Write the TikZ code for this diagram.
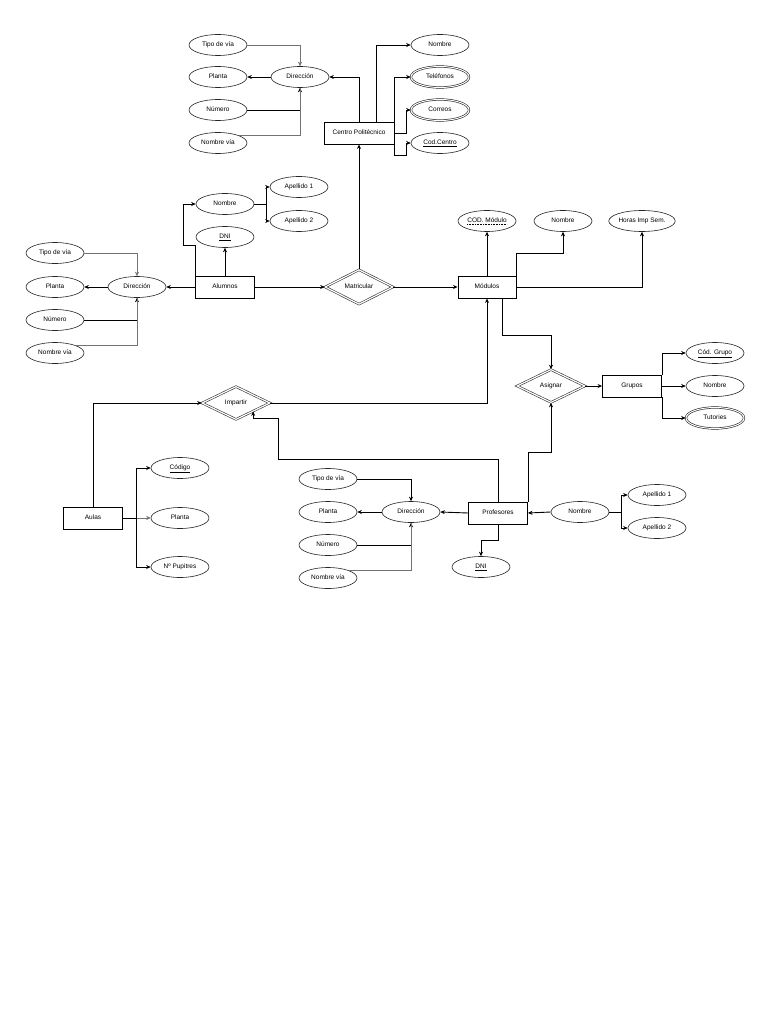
\documentclass[tikz,border=0pt]{standalone}
\usepackage{fontspec}
\setmainfont{Liberation Sans}
\usetikzlibrary{shapes.geometric,arrows.meta}
\tikzset{att/.style={ellipse,draw=black!85,line width=0.6pt,inner sep=0pt,minimum width=58pt,minimum height=21pt,text height=4.8pt,text depth=1.2pt,font=\fontsize{6.5}{7}\selectfont},
attd/.style={att,double,double distance=1pt},
ent/.style={rectangle,draw,line width=0.9pt,inner sep=0pt,minimum width=59pt,minimum height=22pt,text height=4.8pt,text depth=1.2pt,font=\fontsize{6.5}{7}\selectfont},
rel/.style={diamond,draw=black!80,line width=0.6pt,double,double distance=1.2pt,inner sep=0pt,minimum width=68pt,minimum height=33pt,text height=4.8pt,text depth=1.2pt,font=\fontsize{6.5}{7}\selectfont},
ln/.style={line width=0.9pt,-{Stealth[length=4.5pt,width=4pt]}},
lg/.style={line width=0.5pt,draw=black!55}}

\begin{document}
\begin{tikzpicture}[x=1pt,y=-1pt]
\fill[white] (0,0) rectangle (768,1024);
\useasboundingbox (0,0) rectangle (768,1024);

\node[att] (tv1) at (218,45) {Tipo de vía};
\node[att] (pl1) at (218,77) {Planta};
\node[att] (nu1) at (218,110) {Número};
\node[att] (nv1) at (218,143) {Nombre vía};
\node[att] (dir1) at (300,77) {Dirección};
\node[ent,minimum width=70pt] (cp) at (359,133) {Centro Politécnico};
\node[att] (nom1) at (440,45) {Nombre};
\node[attd] (tel) at (440,77) {Teléfonos};
\node[attd] (cor) at (440,110) {Correos};
\node[att] (codc) at (440,143) {\underline{Cod.Centro}};

\draw[lg,-{Stealth[length=4.5pt,width=4pt]}] (tv1.east) -| (dir1.north);
\draw[ln] (dir1.west) -- (pl1.east);
\draw[ln] (nu1.east) -| (dir1.south);
\draw[lg] (nv1.north east) -| (dir1.south);
\draw[ln] (cp.north) |- (dir1.east);
\draw[ln] ([xshift=17pt]cp.north) |- (nom1.west);
\draw[ln] (cp.north east) |- (tel.west);
\draw[ln] (cp.east) -- ++(12,0) |- (cor.west);
\draw[ln] (cp.south east) -- ++(0,11) -- ++(12,0) |- (codc.west);

\node[att] (tv2) at (55,253) {Tipo de vía};
\node[att] (pl2) at (55,287) {Planta};
\node[att] (nu2) at (55,320) {Número};
\node[att] (nv2) at (55,353) {Nombre vía};
\node[att] (dir2) at (137,287) {Dirección};
\node[ent] (alu) at (225,287) {Alumnos};
\node[att] (dni1) at (225,237) {\underline{DNI}};
\node[att] (nom2) at (225,204) {Nombre};
\node[att] (ap11) at (299,187) {Apellido 1};
\node[att] (ap21) at (299,221) {Apellido 2};
\node[rel] (mat) at (359,287) {Matricular};

\draw[lg,-{Stealth[length=4.5pt,width=4pt]}] (tv2.east) -| (dir2.north);
\draw[ln] (dir2.west) -- (pl2.east);
\draw[ln] (nu2.east) -| (dir2.south);
\draw[lg] (nv2.north east) -| (dir2.south);
\draw[ln] (alu.west) -- (dir2.east);
\draw[ln] (alu.north) -- (dni1.south);
\draw[ln] (alu.north west) -- ++(0,-30) -- ++(-12,0) |- (nom2.west);
\draw[ln] (nom2.east) -- ++(12,0) |- (ap11.west);
\draw[ln] (nom2.east) -- ++(12,0) |- (ap21.west);
\draw[ln] (alu.east) -- (mat.west);
\draw[ln] (mat.north) -- (cp.south);

\node[ent,minimum width=58pt] (mod) at (487,287) {Módulos};
\node[att] (codm) at (487,221) {COD. Módulo};
\draw[dashed,line width=0.35pt,dash pattern=on 1pt off 0.6pt] ([xshift=-20pt,yshift=-3.5pt]codm.center) -- ([xshift=20pt,yshift=-3.5pt]codm.center);
\node[att] (nom3) at (563,221) {Nombre};
\node[att,minimum width=62pt] (hor) at (642,221) {Horas Imp Sem.};
\node[rel] (asi) at (551,386) {Asignar};
\node[ent] (gru) at (632,386) {Grupos};
\node[att] (codg) at (715,353) {\underline{Cód. Grupo}};
\node[att] (nom4) at (715,386) {Nombre};
\node[attd] (tut) at (715,418) {Tutories};

\draw[ln] (mat.east) -- (mod.west);
\draw[ln] (mod.north) -- (codm.south);
\draw[ln] (mod.north east) -- ++(0,-22) -| (nom3.south);
\draw[ln] (mod.east) -| (hor.south);
\draw[ln] ([xshift=15pt]mod.south) -- ++(0,37) -| (asi.north);
\draw[ln] (asi.east) -- (gru.west);
\draw[ln] (gru.north east) |- (codg.west);
\draw[ln] (gru.east) -- (nom4.west);
\draw[ln] (gru.south east) |- (tut.west);

\node[rel] (imp) at (236,403) {Impartir};
\node[ent] (aul) at (93,518) {Aulas};
\node[att] (codi) at (180,468) {\underline{Código}};
\node[att] (pl3) at (180,518) {Planta};
\node[att] (pup) at (180,567) {Nº Pupitres};
\node[ent] (prof) at (498,513) {Profesores};
\node[att] (tv3) at (328,479) {Tipo de vía};
\node[att] (pl4) at (328,512) {Planta};
\node[att] (nu3) at (328,545) {Número};
\node[att] (nv3) at (328,578) {Nombre vía};
\node[att] (dir3) at (411,512) {Dirección};
\node[att] (dni2) at (481,567) {\underline{DNI}};
\node[att] (nom5) at (580,512) {Nombre};
\node[att] (ap12) at (657,495) {Apellido 1};
\node[att] (ap22) at (657,528) {Apellido 2};

\draw[ln] (imp.east) -| (mod.south);
\draw[ln] (aul.north) |- (imp.west);
\draw[ln] (aul.east) -- ++(13,0) |- (codi.west);
\draw[lg,-{Stealth[length=4.5pt,width=4pt]}] (aul.east) -- (pl3.west);
\draw[ln] (aul.east) -- ++(13,0) |- (pup.west);
\draw[ln] (prof.north) -- ++(0,-42) -| (278,418) -| (imp.south east);
\draw[ln] (prof.north east) -- ++(0,-49) -| (asi.south);
\draw[ln] (prof.west) -- (dir3.east);
\draw[ln] (dir3.west) -- (pl4.east);
\draw[ln] (tv3.east) -| (dir3.north);
\draw[ln] (nu3.east) -| (dir3.south);
\draw[lg] (nv3.north east) -| (dir3.south);
\draw[ln] (prof.south) -- ++(0,16) -| (dni2.north);
\draw[ln] (nom5.west) -- (prof.east);
\draw[ln] (nom5.east) -- ++(12,0) |- (ap12.west);
\draw[ln] (nom5.east) -- ++(12,0) |- (ap22.west);
\end{tikzpicture}
\end{document}
